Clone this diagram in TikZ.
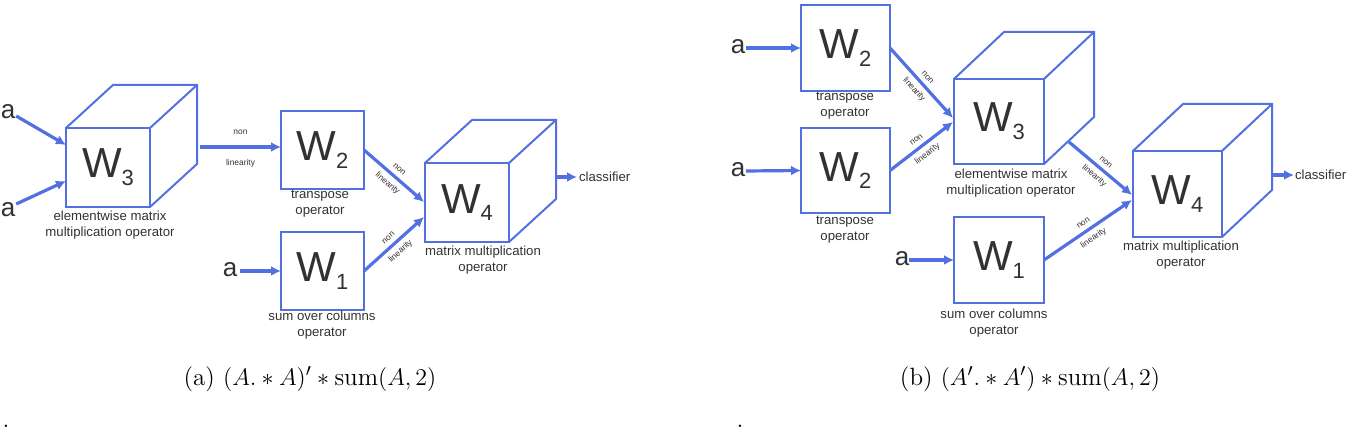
\documentclass[tikz,border=0pt]{standalone}
\usepackage{fontspec}
\usetikzlibrary{arrows.meta,calc}
\newfontfamily\sans{Liberation Sans}
\definecolor{bl}{RGB}{82,112,226}
\definecolor{tx}{RGB}{50,50,50}
\newcommand{\wlab}[1]{W\raisebox{-0.35ex}{\fontsize{11}{11}\selectfont #1}}
\newcommand{\cubeback}[3]{%
  \draw[myln] (#1.north west) -- ++(#2,#3) -| ($(#1.south east)+(#2,#3)$) -- (#1.south east);
  \draw[myln] (#1.north east) -- ++(#2,#3);}
\begin{document}
\begin{tikzpicture}[x=0.5pt,y=-0.5pt,
  every node/.style={inner sep=0pt,outer sep=0pt},
  mybx/.style={draw=bl,line width=1pt,fill=white},
  myar/.style={draw=bl,line width=1.6pt,-{Latex[length=5pt,width=5pt]}},
  myln/.style={draw=bl,line width=1pt},
  mywt/.style={text=tx,font=\sans\fontsize{21}{21}\selectfont},
  mylab/.style={text=tx,font=\sans\fontsize{6.6}{8}\selectfont,align=center},
  mytiny/.style={text=tx,font=\sans\fontsize{4.2}{5}\selectfont},
  myatx/.style={text=tx,font=\sans\fontsize{13}{13}\selectfont},
  mycapt/.style={font=\fontsize{12.5}{14}\selectfont}]
\useasboundingbox (0,0) rectangle (1356,437);
% ---------- panel (a)
\node[mybx,minimum width=42pt,minimum height=39.5pt] (w3) at (108,167.5) {};
\cubeback{w3}{47}{-43}
\node[mywt] at (w3) {\wlab{3}};
\node[mylab] at (110,225) {elementwise matrix\\multiplication operator};
\node[myatx] (a1) at (8,112) {a};
\node[myatx] (a2) at (8,210) {a};
\draw[myar] (a1.east)++(1,4) -- (66,145);
\draw[myar] (a2.east)++(1,-6) -- (66,181);
\node[mybx,minimum width=41.5pt,minimum height=39pt] (w2) at (322.5,150) {};
\node[mywt] at (w2) {\wlab{2}};
\node[mylab] at (320,204) {transpose\\operator};
\node[mybx,minimum width=41.5pt,minimum height=39pt] (w1) at (322.5,271) {};
\node[mywt] at (w1) {\wlab{1}};
\node[mylab] at (322,325) {sum over columns\\operator};
\node[myatx] (a3) at (230,270) {a};
\draw[myar] (240,271) -- (w1.west);
\node[mybx,minimum width=42pt,minimum height=39.5pt] (w4) at (467,202.5) {};
\cubeback{w4}{47}{-43}
\node[mywt] at (w4) {\wlab{4}};
\node[mylab] at (483,260) {matrix multiplication\\operator};
\draw[myar] (200,147) -- node[mytiny,above=6pt]{non} node[mytiny,below=6pt]{linearity} (w2.west|-0,147);
\draw[myar] (w2.east) -- node[mytiny,sloped,above=3pt]{non} node[mytiny,sloped,below=3pt]{linearity} (424,202);
\draw[myar] (w1.east) -- node[mytiny,sloped,above=3pt]{non} node[mytiny,sloped,below=3pt]{linearity} (424,217);
\coordinate (c1) at (577,177);
\draw[myar] (556,177) -- (c1);
\node[mylab,anchor=west] at (579,177) {classifier};
\node[mycapt] at (310,379) {(a) $(A.*A)'*\mathrm{sum}(A,2)$};
\node[mycapt] at (6,426) {.};
% ---------- panel (b)
\node[mybx,minimum width=44.5pt,minimum height=43pt] (v2a) at (845.5,48) {};
\node[mywt] at (v2a) {\wlab{2}};
\node[mylab] at (845,106) {transpose\\operator};
\node[mybx,minimum width=44.5pt,minimum height=42.5pt] (v2b) at (845.5,170.5) {};
\node[mywt] at (v2b) {\wlab{2}};
\node[mylab] at (845,230) {transpose\\operator};
\node[myatx] (b1) at (738,47) {a};
\node[myatx] (b2) at (738,170) {a};
\draw[myar] (746,48) -- (v2a.west);
\draw[myar] (746,171) -- (v2b.west);
\node[mybx,minimum width=45pt,minimum height=42.5pt] (v3) at (999,121.5) {};
\cubeback{v3}{50}{-47}
\node[mywt] at (v3) {\wlab{3}};
\node[mylab] at (1011,183) {elementwise matrix\\multiplication operator};
\node[mybx,minimum width=45pt,minimum height=43pt] (v1) at (999,260) {};
\node[mywt] at (v1) {\wlab{1}};
\node[mylab] at (994,323) {sum over columns\\operator};
\node[myatx] (b3) at (902,259) {a};
\draw[myar] (909,260) -- (v1.west);
\node[mybx,minimum width=44.5pt,minimum height=43pt] (v4) at (1177.5,194) {};
\cubeback{v4}{50}{-47}
\node[mywt] at (v4) {\wlab{4}};
\node[mylab] at (1181,255) {matrix multiplication\\operator};
\draw[myar] (v2a.east) -- node[mytiny,sloped,above=3pt]{non} node[mytiny,sloped,below=3pt]{linearity} (953,118);
\draw[myar] (v2b.east) -- node[mytiny,sloped,above=3pt]{non} node[mytiny,sloped,below=3pt]{linearity} (953,122);
\draw[myar] (1069,142) -- node[mytiny,sloped,above=3pt]{non} node[mytiny,sloped,below=3pt]{linearity} (1132,195);
\draw[myar] (v1.east) -- node[mytiny,sloped,above=3pt]{non} node[mytiny,sloped,below=3pt]{linearity} (1132,200);
\coordinate (c2) at (1294,175);
\draw[myar] (1272,175) -- (c2);
\node[mylab,anchor=west] at (1295,175) {classifier};
\node[mycapt] at (1030,379) {(b) $(A'.*A')*\mathrm{sum}(A,2)$};
\node[mycapt] at (740,426) {.};
\end{tikzpicture}
\end{document}
